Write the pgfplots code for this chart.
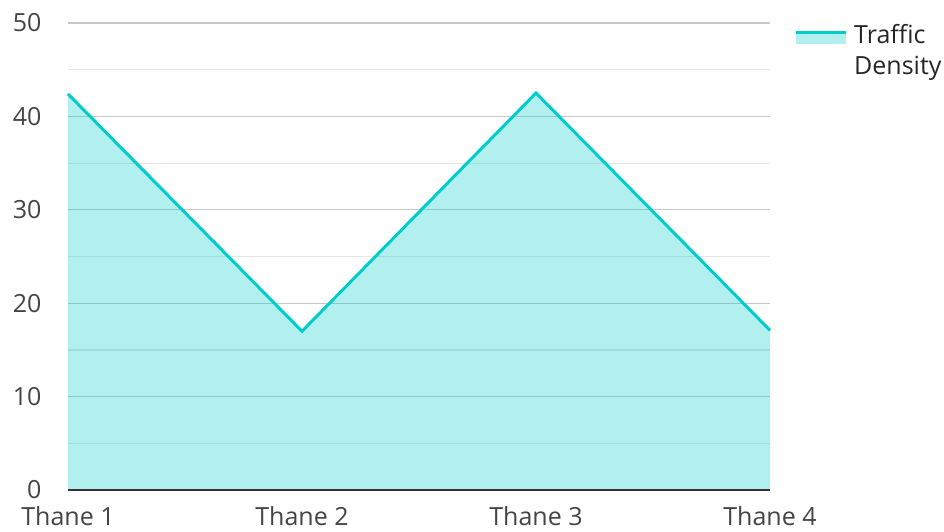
\documentclass[border=0pt]{standalone}
\usepackage{pgfplots}
\pgfplotsset{compat=1.18}
\usepackage{fontspec}
\setmainfont{Open Sans}
\definecolor{lc}{HTML}{00CCCC}
\definecolor{tickc}{HTML}{444444}
\begin{document}
\fontsize{25}{30}\selectfont
\begin{tikzpicture}
\path[use as bounding box] (-68pt,-41pt) rectangle (876pt,490pt);
\begin{axis}[
  at={(0pt,0pt)}, anchor=south west,
  width=702pt, height=467pt, scale only axis,
  xmin=0, xmax=3, ymin=0, ymax=50,
  xtick={0,1,2,3},
  xticklabels={Thane 1,Thane 2,Thane 3,Thane 4},
  ytick={0,10,20,30,40,50},
  minor ytick={5,15,25,35,45},
  ymajorgrids, yminorgrids,
  major grid style={color=black!22, line width=1.2pt},
  minor grid style={color=black!10, line width=1.2pt},
  axis line style={draw=none},
  major tick length=0pt, minor tick length=0pt,
  /pgf/number format/assume math mode=true,
  tick label style={color=tickc, font=\fontsize{25}{28}\selectfont},
  yticklabel style={xshift=-18pt},
  xticklabel style={yshift=-8pt},
  clip=false,
  legend style={at={(axis description cs:1,1)}, anchor=north west, xshift=24pt, yshift=1pt,
    draw=none, fill=none, inner sep=0pt, font=\fontsize{25}{31}\selectfont, text=black!85,
    nodes={align=left, text depth=0pt}},
  legend cell align=left,
  legend image code/.code={
    \fill[lc, fill opacity=0.3, draw=none] (0pt,5pt) rectangle (50pt,17pt);
    \draw[lc, line width=3pt] (0pt,17pt) -- (50pt,17pt);
    \path (55pt,0pt);
  },
]
\addplot[fill=lc, fill opacity=0.3, draw=none, forget plot] coordinates {
  (0,42.4) (1,17.0) (2,42.5) (3,17.1)
} \closedcycle;
\addplot[draw=lc, line width=3pt, line join=miter] coordinates {
  (0,42.4) (1,17.0) (2,42.5) (3,17.1)
};
\addlegendentry{Traffic\\Density}
\draw[color=black!80, line width=1.5pt] (axis cs:0,0) -- (axis cs:3,0);
\end{axis}
\end{tikzpicture}
\end{document}
